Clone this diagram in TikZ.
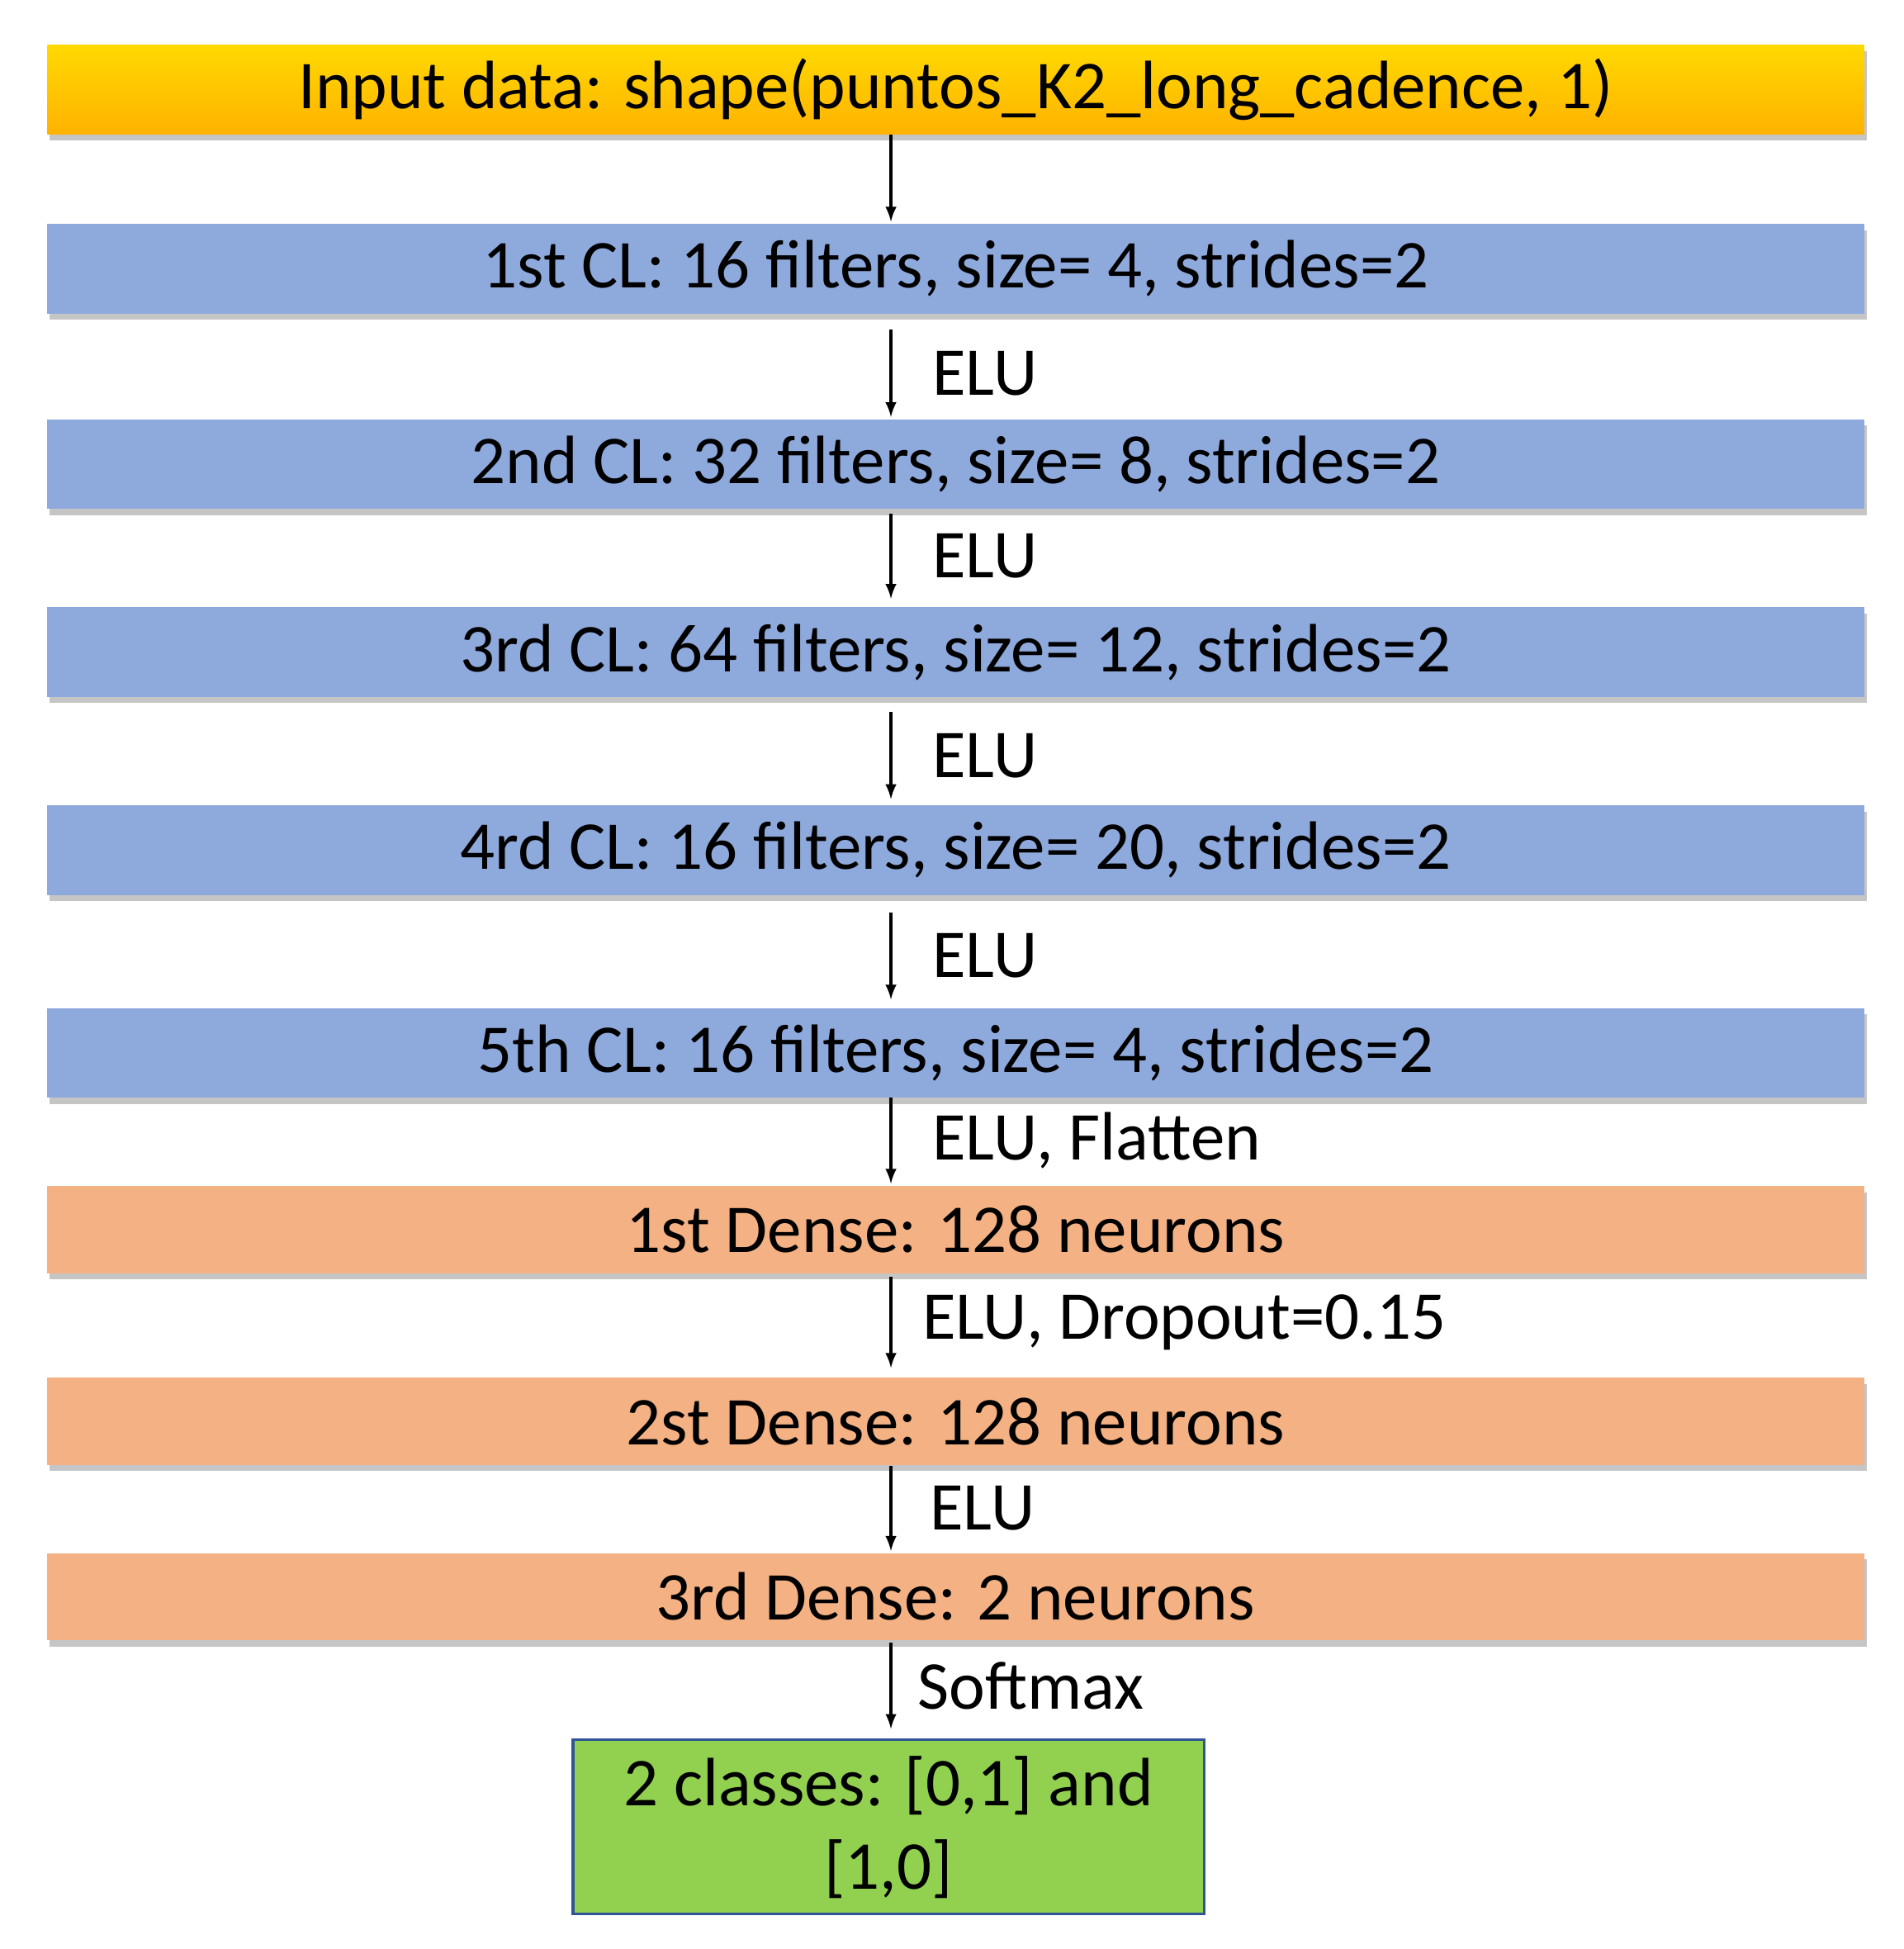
\documentclass[tikz,border=0pt]{standalone}
\usepackage{fontspec}
\setmainfont{Carlito}
\usetikzlibrary{shadows}
\definecolor{cl}{HTML}{8EA9DB}
\definecolor{dn}{HTML}{F4B183}
\definecolor{gr}{HTML}{92D050}
\definecolor{gb}{HTML}{2F5597}
\tikzset{x=1pt,y=-1pt,
 layer/.style={draw=none,minimum width=1460pt,inner sep=0pt,font=\fontsize{55}{60}\selectfont,drop shadow={shadow xshift=2pt,shadow yshift=-5pt,fill=black!45}},
 arr/.style={-latex,line width=3pt},
 lab/.style={anchor=west,font=\fontsize{55}{60}\selectfont,inner sep=0pt}}
\begin{document}
\begin{tikzpicture}
\useasboundingbox (0,0) rectangle (1530,1566);
\node[layer,top color=yellow!70!orange,bottom color=orange!60!yellow,minimum height=72pt] (in) at (768,72) {Input data: shape(puntos\_K2\_long\_cadence, 1)};
\node[layer,fill=cl,minimum height=72pt] (c1) at (768,216) {1st CL: 16 filters, size= 4, strides=2};
\node[layer,fill=cl,minimum height=72pt] (c2) at (768,373) {2nd CL: 32 filters, size= 8, strides=2};
\node[layer,fill=cl,minimum height=72pt] (c3) at (768,524) {3rd CL: 64 filters, size= 12, strides=2};
\node[layer,fill=cl,minimum height=72pt] (c4) at (768,683) {4rd CL: 16 filters, size= 20, strides=2};
\node[layer,fill=cl,minimum height=72pt] (c5) at (768,846) {5th CL: 16 filters, size= 4, strides=2};
\node[layer,fill=dn,minimum height=70pt] (d1) at (768,988) {1st Dense: 128 neurons};
\node[layer,fill=dn,minimum height=70pt] (d2) at (768,1142) {2st Dense: 128 neurons};
\node[layer,fill=dn,minimum height=70pt] (d3) at (768,1283) {3rd Dense: 2 neurons};
\node[draw=gb,line width=2pt,fill=gr,minimum width=507pt,minimum height=140pt,align=center,font=\fontsize{55}{67}\selectfont] (out) at (714,1468) {2 classes: [0,1] and\\{}[1,0]};
\draw[arr] (716,108) -- (716,178);
\draw[arr] (716,265) -- (716,335) node[lab,midway,xshift=32pt] {ELU};
\draw[arr] (716,413) -- (716,481) node[lab,midway,xshift=32pt] {ELU};
\draw[arr] (716,572) -- (716,642) node[lab,midway,xshift=32pt] {ELU};
\draw[arr] (716,733) -- (716,803) node[lab,midway,xshift=32pt] {ELU};
\draw[arr] (716,882) -- (716,951) node[lab,midway,xshift=32pt] {ELU, Flatten};
\draw[arr] (716,1026) -- (716,1099) node[lab,midway,xshift=24pt] {ELU, Dropout=0.15};
\draw[arr] (716,1178) -- (716,1246) node[lab,midway,xshift=30pt] {ELU};
\draw[arr] (716,1320) -- (716,1389) node[lab,midway,xshift=20pt] {Softmax};
\end{tikzpicture}
\end{document}
